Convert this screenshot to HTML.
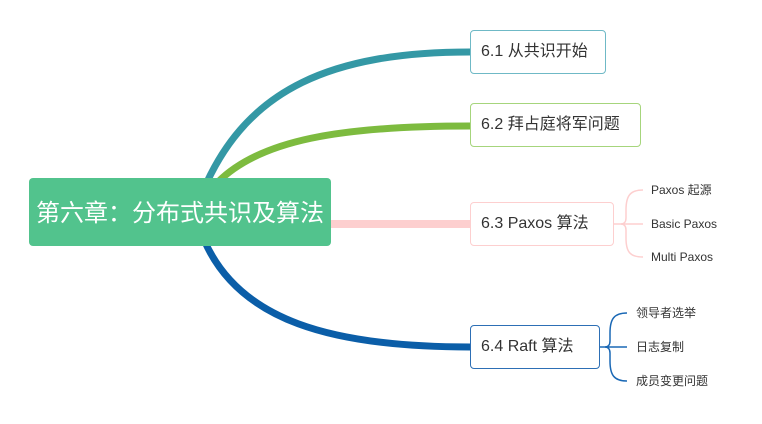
<!DOCTYPE html>
<html><head><meta charset="utf-8"><style>
body{margin:0;width:762px;height:424px;background:#fff;overflow:hidden;position:relative;font-family:"Liberation Sans","Noto Sans CJK SC",sans-serif;}
.n{position:absolute;box-sizing:border-box;background:#fff;border-radius:4px;color:#333;font-size:16px;line-height:1;display:flex;align-items:center;padding-left:10px;}
.t{position:absolute;font-size:12px;color:#333;line-height:1;}
</style></head><body>
<svg width="762" height="424" style="position:absolute;left:0;top:0">
<path d="M207 182 C250 90 330 52 470 52" stroke="#3498a5" stroke-width="7" fill="none"/>
<path d="M218 182 C260 140 340 126 470 126" stroke="#7dbb3f" stroke-width="7" fill="none"/>
<path d="M331 224 L470 224" stroke="#fdcfcf" stroke-width="8" fill="none"/>
<path d="M205 242 C240 320 330 347 470 347" stroke="#0b5ea8" stroke-width="7" fill="none"/>
<g stroke="#fdcfcf" stroke-width="1.5" fill="none">
<path d="M614 224 H643"/>
<path d="M643 190 C630 190 626 196 626 210 L626 218 C626 222 624 224 621 224 C624 224 626 226 626 230 L626 238 C626 252 630 257 643 257"/>
</g>
<g stroke="#1a68b5" stroke-width="1.5" fill="none">
<path d="M600 347 H627"/>
<path d="M627 313 C614 313 610 319 610 333 L610 341 C610 345 608 347 605 347 C608 347 610 349 610 353 L610 361 C610 375 614 381 627 381"/>
</g>
</svg>
<div style="position:absolute;left:29px;top:178px;width:302px;height:68px;background:#52c38d;border-radius:4px;color:#fff;font-size:24px;line-height:1;padding-top:4px;box-sizing:border-box;display:flex;align-items:center;justify-content:center;">第六章：分布式共识及算法</div>
<div class="n" style="left:470px;top:30px;width:136px;height:44px;border:1px solid #6fb9c6">6.1 从共识开始</div>
<div class="n" style="left:470px;top:103px;width:171px;height:44px;border:1px solid #a6d57c">6.2 拜占庭将军问题</div>
<div class="n" style="left:470px;top:202px;width:144px;height:44px;border:1px solid #fdcfcf">6.3 Paxos 算法</div>
<div class="n" style="left:470px;top:325px;width:130px;height:44px;border:1px solid #2d6fb5">6.4 Raft 算法</div>
<div class="t" style="left:651px;top:184px">Paxos 起源</div>
<div class="t" style="left:651px;top:218px">Basic Paxos</div>
<div class="t" style="left:651px;top:251px">Multi Paxos</div>
<div class="t" style="left:636px;top:307px">领导者选举</div>
<div class="t" style="left:636px;top:341px">日志复制</div>
<div class="t" style="left:636px;top:375px">成员变更问题</div>
</body></html>
